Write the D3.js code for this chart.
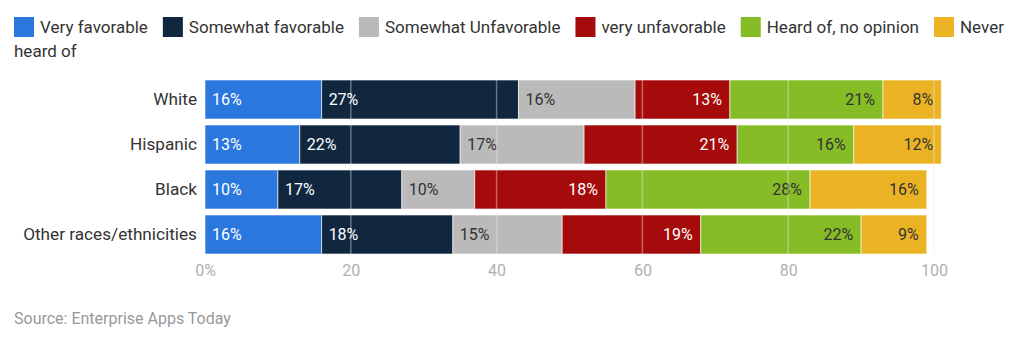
<!DOCTYPE html>
<html><head><meta charset="utf-8">
<script src="https://cdn.jsdelivr.net/npm/d3@7/dist/d3.min.js"></script>
<style>
html,body{margin:0;padding:0;background:#fff;}
svg{display:block;font-family:Roboto,"Noto Sans",sans-serif;}
</style></head>
<body><svg id="c" width="1024" height="343"></svg>
<script>
const categories = ["White", "Hispanic", "Black", "Other races/ethnicities"];
const seriesNames = ["Very favorable", "Somewhat favorable", "Somewhat Unfavorable", "very unfavorable", "Heard of, no opinion", "Never heard of"];
const veryFavorable = [16, 13, 10, 16];
const somewhatFavorable = [27, 22, 17, 18];
const somewhatUnfavorable = [16, 17, 10, 15];
const veryUnfavorable = [13, 21, 18, 19];
const heardNoOpinion = [21, 16, 28, 22];
const neverHeard = [8, 12, 16, 9];
const tickValues = [0, 20, 40, 60, 80, 100];
const tickLabels = ["0%", "20", "40", "60", "80", "100"];
const sourceText = "Source: Enterprise Apps Today";

const seriesValues = [veryFavorable, somewhatFavorable, somewhatUnfavorable, veryUnfavorable, heardNoOpinion, neverHeard];
const colors = ["#2a77de", "#10273f", "#bababa", "#a50b0b", "#86bc25", "#ebb324"];
const labelColors = ["#fff", "#fff", "#333", "#fff", "#333", "#333"];
const labelAlignEnd = [false, false, false, true, true, true];

const svg = d3.select("#c");
const LFS = 17;

// Legend (flow layout with word wrapping)
const legend = svg.append("g");
const measure = svg.append("text").attr("font-size", LFS).attr("visibility", "hidden");
function tw(s){ measure.text(s); return measure.node().getComputedTextLength(); }
const maxX = 1012, lineH = 24;
let lx = 14, ly = 0;
seriesNames.forEach((name, i) => {
  if (lx + 26 + tw(name.split(" ")[0]) > maxX) { lx = 14; ly += lineH; }
  legend.append("rect").attr("x", lx).attr("y", 17 + ly).attr("width", 20).attr("height", 20)
    .attr("fill", colors[i]);
  lx += 26;
  const words = name.split(" ");
  let cur = "";
  let startX = lx;
  words.forEach(w => {
    const test = cur ? cur + " " + w : w;
    if (startX + tw(test) > maxX && cur) {
      legend.append("text").attr("x", startX).attr("y", 33 + ly).attr("font-size", LFS).attr("fill", "#333").text(cur);
      ly += lineH; startX = 14; cur = w;
    } else cur = test;
  });
  legend.append("text").attr("x", startX).attr("y", 33 + ly).attr("font-size", LFS).attr("fill", "#333").text(cur);
  lx = startX + tw(cur) + 15;
});
measure.remove();

// Scales
const x = d3.scaleLinear().domain([0, 100]).range([205, 934]);
const y = d3.scaleBand().domain(categories).range([80, 254]).paddingInner(0.133).paddingOuter(0);

// Stacked data
const rows = categories.map((c, ci) => {
  let acc = 0;
  return seriesValues.map((vals, si) => {
    const d = { cat: c, si, v: vals[ci], x0: acc, x1: acc + vals[ci] };
    acc += vals[ci];
    return d;
  });
});

const g = svg.append("g");
rows.forEach(row => {
  row.forEach(d => {
    g.append("rect")
      .attr("x", x(d.x0)).attr("y", y(d.cat))
      .attr("width", x(d.x1) - x(d.x0)).attr("height", y.bandwidth())
      .attr("fill", colors[d.si])
      .attr("stroke", "rgba(255,255,255,0.6)").attr("stroke-width", 1);
  });
});

// Gridlines on top of bars
const gridTop = y(categories[0]), gridBot = y(categories[categories.length - 1]) + y.bandwidth();
svg.append("g").selectAll("line").data(tickValues.slice(1)).join("line")
  .attr("x1", d => x(d)).attr("x2", d => x(d))
  .attr("y1", gridTop).attr("y2", gridBot)
  .attr("stroke", "rgba(235,235,235,0.4)").attr("stroke-width", 1.5);

// Value labels
rows.forEach(row => {
  row.forEach(d => {
    const end = labelAlignEnd[d.si];
    g.append("text")
      .attr("x", end ? x(d.x1) - 8 : x(d.x0) + 7)
      .attr("y", y(d.cat) + y.bandwidth() / 2)
      .attr("dy", "0.35em")
      .attr("text-anchor", end ? "end" : "start")
      .attr("font-size", 16)
      .attr("fill", labelColors[d.si])
      .text(d.v + "%");
  });
});

// Category labels
const yAxis = d3.axisLeft(y).tickSize(0).tickPadding(8);
const ya = svg.append("g").attr("transform", "translate(205,0)").call(yAxis);
ya.select(".domain").remove();
ya.selectAll("text").attr("font-size", 17.2).attr("fill", "#333").attr("font-family", "Roboto, sans-serif");

// X axis
const xAxis = d3.axisBottom(x).tickValues(tickValues).tickSize(0).tickPadding(0)
  .tickFormat((d, i) => tickLabels[i]);
const xa = svg.append("g").attr("transform", "translate(0,265)").call(xAxis);
xa.select(".domain").remove();
xa.selectAll("text").attr("font-size", 16).attr("fill", "#b0b0b0").attr("font-family", "Roboto, sans-serif");

// Source
svg.append("text").attr("x", 14).attr("y", 324).attr("font-size", 16).attr("fill", "#999").text(sourceText);
</script></body></html>
